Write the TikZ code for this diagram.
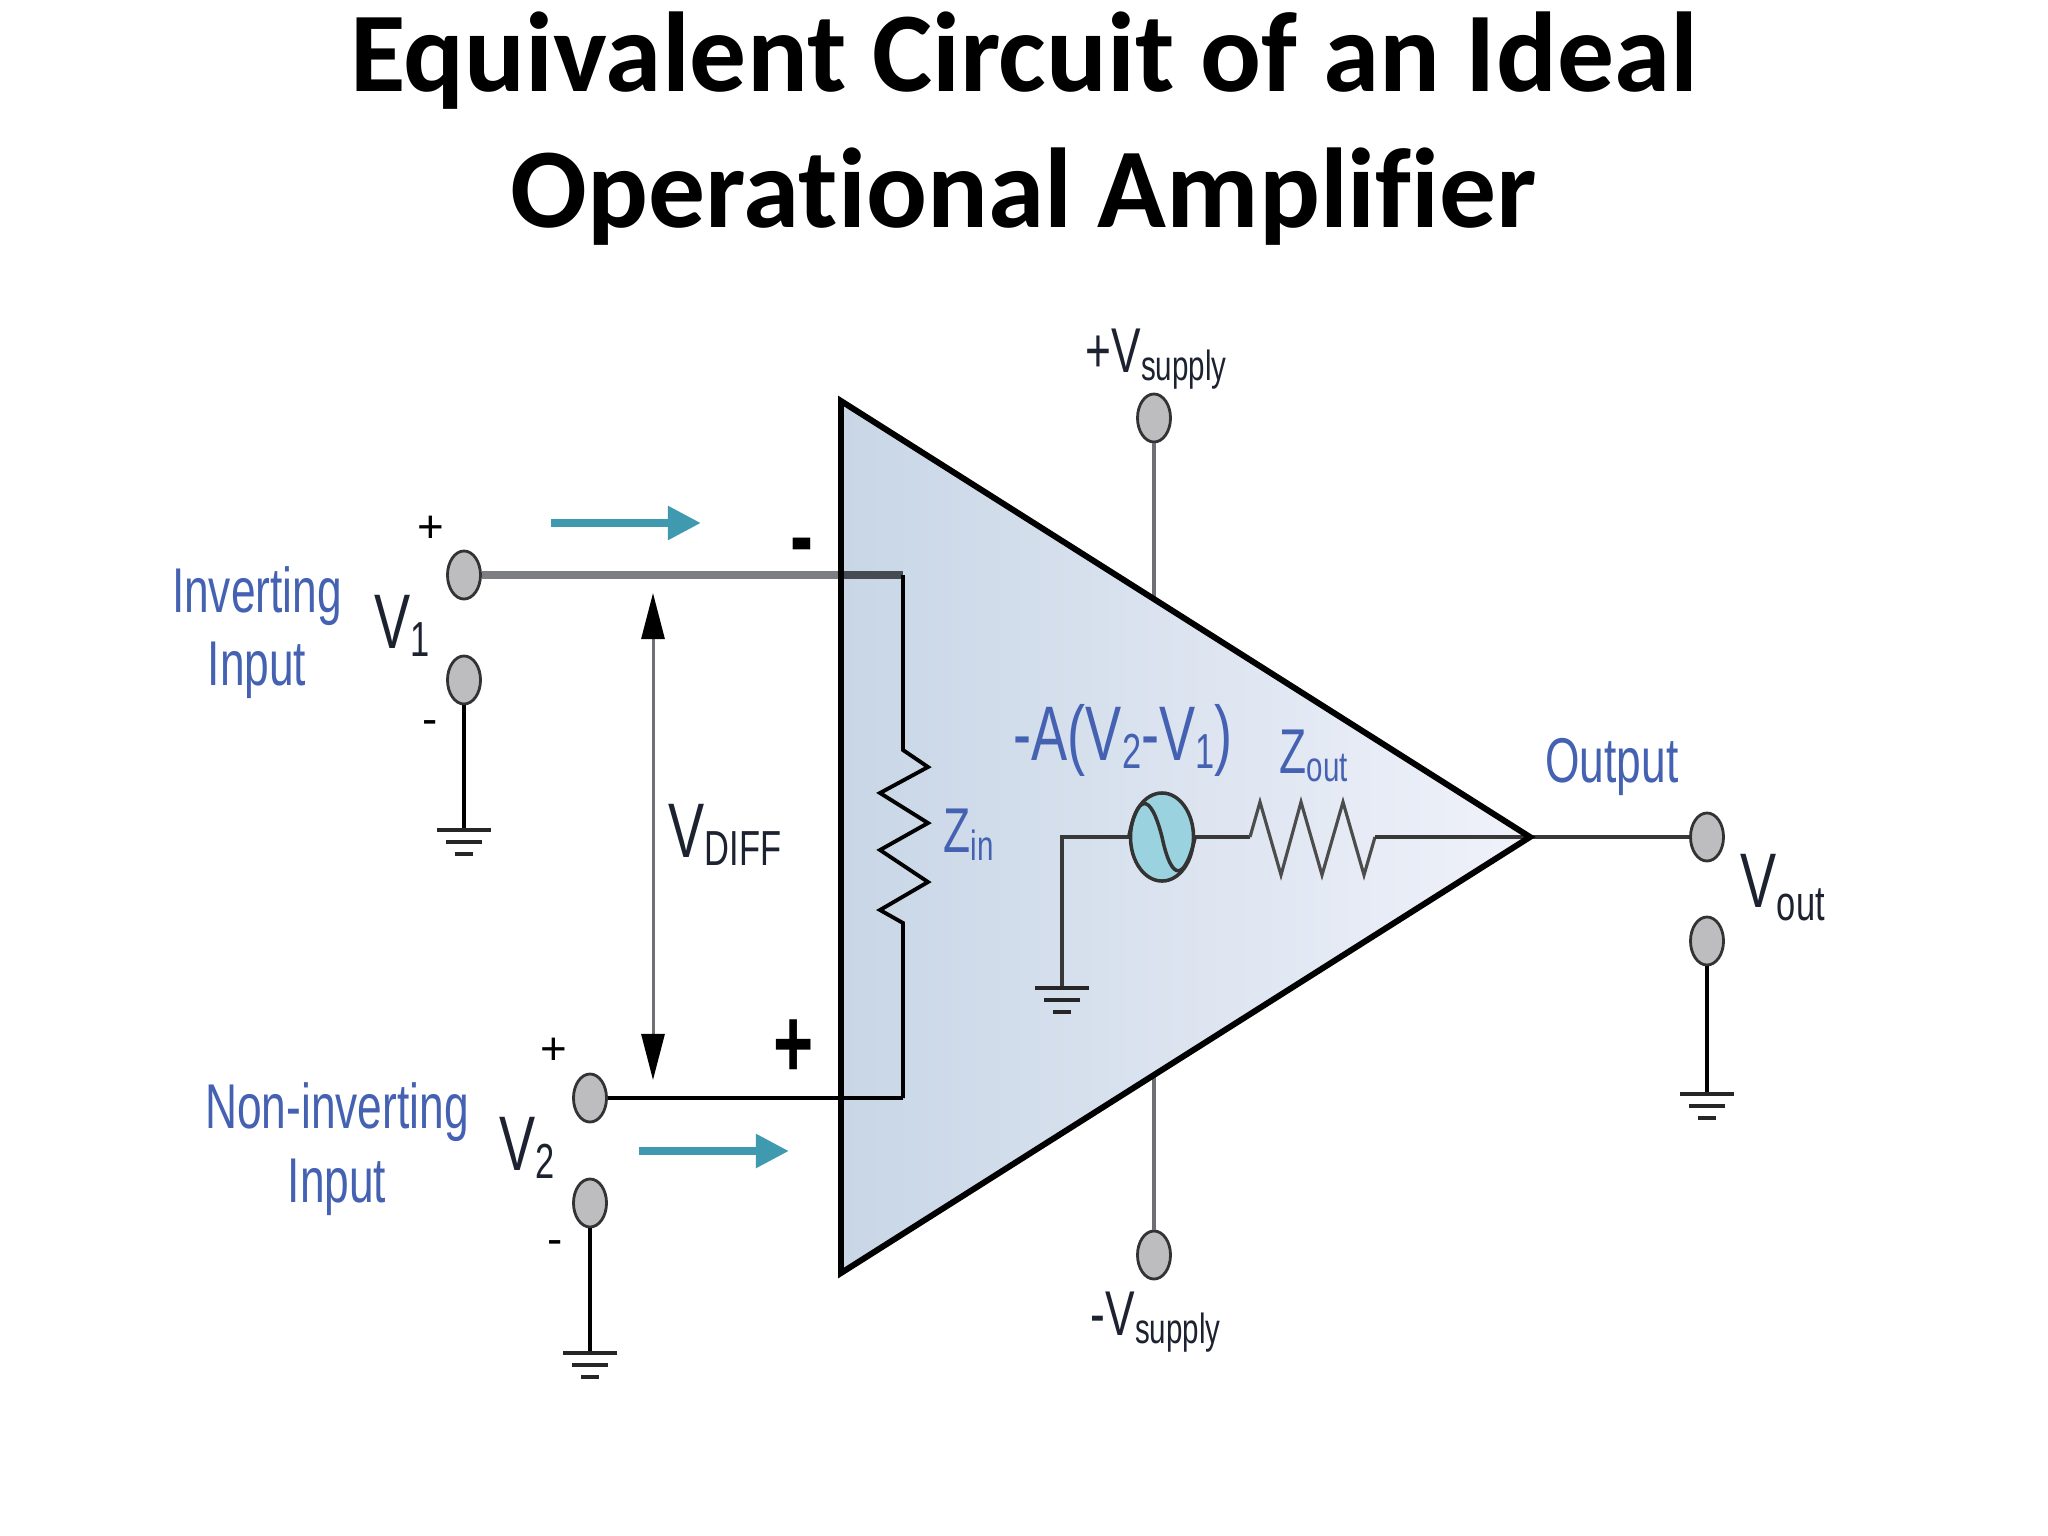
\documentclass[tikz,border=0pt]{standalone}
\usepackage{fontspec}
\usepackage{xcolor}
\usepackage{tikz}
\usetikzlibrary{arrows.meta,calc,shapes.geometric}
\setsansfont{Liberation Sans}
\newfontfamily\titlefont[Ligatures=NoCommon]{Carlito}
\newfontfamily\labfont[FakeStretch=0.7]{Liberation Sans}
\definecolor{inkblue}{HTML}{4562B2}
\definecolor{inkdark}{HTML}{1C2230}
\definecolor{wiregrey}{HTML}{6E7074}
\definecolor{padgrey}{HTML}{BDBDC0}
\definecolor{teal}{HTML}{3F9AAF}
\definecolor{triLeft}{HTML}{C8D6E6}
\definecolor{triRight}{HTML}{F0F2FA}
\definecolor{acfill}{HTML}{9AD3DF}
\tikzset{
  wire/.style={draw=black, line width=1.1pt},
  thinwire/.style={draw=wiregrey, line width=0.9pt},
  outwire/.style={draw=black!78, line width=1.4pt},
  triedge/.style={draw=black, line width=1.7pt, line join=miter},
  pad/.style={ellipse, draw=black!80, line width=0.8pt, fill=padgrey, minimum width=0.33cm, minimum height=0.48cm, inner sep=0pt},
  flow/.style={draw=teal, line width=2.3pt, -{Triangle[length=0.33cm,width=0.32cm,fill=teal]}},
  diffarrow/.style={draw=wiregrey, line width=0.85pt, {Triangle[length=0.46cm,width=0.23cm,color=black]}-{Triangle[length=0.46cm,width=0.23cm,color=black]}},
  gnd/.style={draw=black!85, line width=1.2pt},
  headline/.style={anchor=base, inner sep=0pt, font=\titlefont\bfseries\fontsize{32.3}{32.3}\selectfont},
  bluelab/.style={anchor=base, inner sep=0pt, text=inkblue, font=\labfont\fontsize{18}{18}\selectfont},
  bluebig/.style={anchor=base west, inner sep=0pt, text=inkblue, font=\labfont\fontsize{22}{22}\selectfont},
  darkbig/.style={anchor=base west, inner sep=0pt, text=inkdark, font=\labfont\fontsize{22}{22}\selectfont},
  darkmid/.style={anchor=base west, inner sep=0pt, text=inkdark, font=\labfont\fontsize{18}{18}\selectfont},
  sign/.style={inner sep=0pt, text=black, font=\sffamily\fontsize{13}{13}\selectfont},
  bigsign/.style={inner sep=0pt, text=black, font=\labfont\bfseries\fontsize{28}{28}\selectfont}
}
\newcommand{\SubBig}[2][2.5pt]{\raisebox{-#1}{\fontsize{14}{14}\selectfont #2}}
\newcommand{\SubMid}[1]{\raisebox{-2.4pt}{\fontsize{12}{12}\selectfont #1}}
\newcommand{\GroundMark}[1]{%
  % #1 = coordinate of the top bar
  \draw[gnd] ($(#1)+(-27,0)$) -- ($(#1)+(27,0)$);
  \draw[gnd] ($(#1)+(-18,12)$) -- ($(#1)+(18,12)$);
  \draw[gnd] ($(#1)+(-9,24)$) -- ($(#1)+(9,24)$);
}

\begin{document}
\begin{tikzpicture}[x=0.01cm, y=-0.01cm, line cap=butt, line join=miter]
  \useasboundingbox (0,0) rectangle (2048,1536);
  \coordinate (triTop) at (841,401);
  \coordinate (triBot) at (841,1273);
  \coordinate (triTip) at (1530,837);
  \coordinate (zinTop) at (903,575);
  \coordinate (zinBot) at (903,1098);
  \coordinate (gndIn) at (464,830);
  \coordinate (gndNon) at (590,1353);
  \coordinate (gndSrc) at (1062,988);
  \coordinate (gndOut) at (1707,1094);
  \coordinate (srcCorner) at (1062,837);
  \coordinate (edgeUp) at (1154,599);
  \coordinate (edgeDown) at (1154,1075);
  \coordinate (edgeLeft) at (841,575);
  \coordinate (flowAin) at (551,523);
  \coordinate (flowAout) at (701,523);
  \coordinate (flowBin) at (639,1151);
  \coordinate (flowBout) at (789,1151);
  \coordinate (diffTop) at (653,593);
  \coordinate (diffBot) at (653,1080);

  \node[headline] (titleA) at (1024,91) {Equivalent Circuit of an Ideal};
  \node[headline] (titleB) at (1024,227) {Operational Amplifier};

  % amplifier body
  \shade[left color=triLeft, right color=triRight] (triTop)--(triTip)--(triBot)--cycle;

  \node[pad] (vonePos) at (464,575) {};
  \node[pad] (voneNeg) at (464,680) {};
  \node[pad] (vtwoPos) at (590,1098) {};
  \node[pad] (vtwoNeg) at (590,1203) {};
  \node[pad] (vsupPos) at (1154,418) {};
  \node[pad] (vsupNeg) at (1154,1255) {};
  \node[pad] (voutPos) at (1707,837) {};
  \node[pad] (voutNeg) at (1707,941) {};
  \node[ellipse, draw=black!80, line width=1pt, fill=acfill, minimum width=0.63cm, minimum height=0.88cm, inner sep=0pt] (srcAC) at (1162,837) {};

  % input side
  \draw[draw=wiregrey!90, line width=2.3pt] (vonePos) -- (edgeLeft);
  \draw[draw=black!65!triLeft, line width=2.3pt] (edgeLeft) -- (zinTop);
  \draw[wire] (voneNeg) -- (gndIn);
  \draw[wire] (vtwoPos) -- (zinBot);
  \draw[wire] (vtwoNeg) -- (gndNon);
  \draw[wire] (zinTop) -- (903,750) -- (928,767) -- (880,793) -- (928,823) -- (880,850) -- (928,882) -- (880,910) -- (903,923) -- (zinBot);
  \GroundMark{gndIn}
  \GroundMark{gndNon}

  % inside the triangle
  \draw[outwire] (gndSrc) -- (srcCorner) -- (srcAC);
  \draw[outwire] (srcAC) -- (1250,837);
  \draw[draw=black!70, line width=0.9pt] (1250,837) -- (1260,802) -- (1281,875) -- (1301,802) -- (1322,875) -- (1343,802) -- (1364,875) -- (1375,837);
  \draw[outwire] (1375,837) -- (triTip);
  \draw[draw=black!80, line width=1pt] (srcAC.west) .. controls (1137,795) and (1150,790) .. (1162,837) .. controls (1172,884) and (1185,880) .. (srcAC.east);
  \GroundMark{gndSrc}

  % output and supplies
  \draw[outwire] (triTip) -- (voutPos);
  \draw[wire] (voutNeg) -- (gndOut);
  \GroundMark{gndOut}
  \draw[thinwire] (vsupPos) -- (edgeUp);
  \draw[thinwire] (vsupNeg) -- (edgeDown);

  \draw[triedge] (triTop)--(triTip)--(triBot)--cycle;

  \draw[flow] (flowAin) -- (flowAout);
  \draw[flow] (flowBin) -- (flowBout);
  \draw[diffarrow] (diffTop) -- (diffBot);

  \node[bluelab] (labInv) at (257,612) {Inverting};
  \node[bluelab] (labInpA) at (257,685) {Input};
  \node[bluelab] (labNon) at (337,1128) {Non-inverting};
  \node[bluelab] (labInpB) at (337,1202) {Input};
  \node[bluelab] (labOut) at (1612,782) {Output};

  \node[darkbig] (labVone) at (374,648) {V\SubBig{1}};
  \node[darkbig] (labVtwo) at (499,1170) {V\SubBig{2}};
  \node[darkbig] (labVdiff) at (668,857) {V\SubBig{DIFF}};
  \node[darkbig] (labVout) at (1740,907) {V\SubBig[3.8pt]{out}};
  \node[darkmid] (labSupP) at (1085,372) {+V\SubMid{supply}};
  \node[darkmid] (labSupN) at (1090,1335) {-V\SubMid{supply}};

  \node[bluebig] (labGain) at (1013,760) {-A(V\SubBig{2}-V\SubBig{1})};
  \node[bluelab, anchor=base west] (labZin) at (943,852) {Z\SubMid{in}};
  \node[bluelab, anchor=base west] (labZout) at (1279,773) {Z\SubMid{out}};

  \node[sign] (signA) at (431,529) {+};
  \node[sign] (signB) at (430,728) {-};
  \node[sign] (signC) at (554,1051) {+};
  \node[sign] (signD) at (555,1248) {-};
  \node[bigsign] (signE) at (802,554) {-};
  \node[bigsign] (signF) at (794,1049) {+};
\end{tikzpicture}
\end{document}
